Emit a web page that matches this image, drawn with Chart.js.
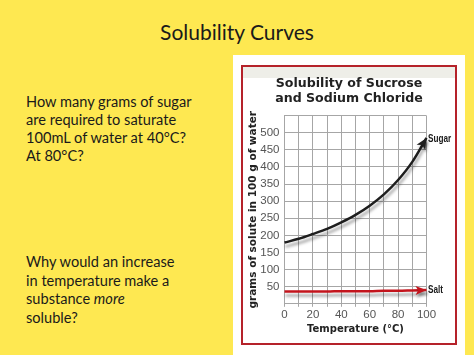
<!DOCTYPE html>
<html><head><meta charset="utf-8">
<script src="https://cdn.jsdelivr.net/npm/chart.js@4/dist/chart.umd.min.js"></script>
<style>
html,body{margin:0;padding:0;}
body{width:474px;height:355px;background:#FEE851;position:relative;overflow:hidden;font-family:Lato,"Open Sans",sans-serif;color:#1a1a1a;}
#title{position:absolute;left:0;width:474px;top:18px;text-align:center;font-size:21px;line-height:28px;}
.p{position:absolute;left:26px;font-size:14.6px;line-height:17.9px;}
#panel{position:absolute;left:233px;top:55px;width:232px;height:310px;background:#fff;}
#frame{position:absolute;left:241px;top:65px;width:212px;height:276px;border:2px solid #B5222A;background:#fff;}
#strip{position:absolute;left:0;top:0;width:212px;height:11px;background:#EEEEE8;}
#c{position:absolute;left:0;top:0;}
</style></head>
<body>
<div id="title">Solubility Curves</div>
<div class="p" style="top:93px">How many grams of sugar<br>are required to saturate<br>100mL of water at 40°C?<br>At 80°C?</div>
<div class="p" style="top:253px;line-height:18.5px">Why would an increase<br>in temperature make a<br>substance <i>more</i><br>soluble?</div>
<div id="panel"></div>
<div id="frame"><div id="strip"></div><canvas id="c" width="212" height="276"></canvas></div>
<script>
const temps = [0, 10, 20, 30, 40, 50, 60, 70, 80, 90, 100];
const sugar = [179, 190, 204, 219, 238, 260, 287, 320, 362, 415, 485];
const salt = [36, 36, 36, 36, 37, 37, 37, 38, 38, 39, 40];
const seriesNames = ['Sugar', 'Salt'];
const chartTitle = ['Solubility of Sucrose', 'and Sodium Chloride'];
const xTitle = 'Temperature (°C)';
const yTitle = 'grams of solute in 100 g of water';

const shadowPlugin = {
  id: 'shadow',
  beforeDatasetDraw(chart) {
    const ctx = chart.ctx;
    ctx.save();
    ctx.shadowColor = 'rgba(0,0,0,0.35)';
    ctx.shadowBlur = 3;
    ctx.shadowOffsetX = 1;
    ctx.shadowOffsetY = 4;
  },
  afterDatasetDraw(chart) { chart.ctx.restore(); }
};

const arrowPlugin = {
  id: 'arrows',
  afterDatasetsDraw(chart) {
    const ctx = chart.ctx;
    chart.data.datasets.forEach((ds, i) => {
      const meta = chart.getDatasetMeta(i);
      const pts = meta.data;
      const p = pts[pts.length - 1];
      const q = pts[pts.length - 2];
      let fx = (p.cp1x !== undefined) ? p.cp1x : q.x;
      let fy = (p.cp1y !== undefined) ? p.cp1y : q.y;
      if (Math.abs(fx - p.x) < 0.5 && Math.abs(fy - p.y) < 0.5) { fx = q.x; fy = q.y; }
      const ang = Math.atan2(p.y - fy, p.x - fx);
      const L = ds.arrowLen, W = ds.arrowHalf;
      ctx.save();
      ctx.shadowColor = 'rgba(0,0,0,0.35)';
      ctx.shadowBlur = 3;
      ctx.shadowOffsetX = 1;
      ctx.shadowOffsetY = 3;
      ctx.translate(p.x, p.y);
      ctx.rotate(ang);
      ctx.beginPath();
      ctx.moveTo(0, 0);
      ctx.lineTo(-L, -W);
      ctx.lineTo(-L * 0.75, 0);
      ctx.lineTo(-L, W);
      ctx.closePath();
      ctx.fillStyle = ds.borderColor;
      ctx.fill();
      ctx.restore();
      ctx.save();
      ctx.font = 'bold 10.5px "Liberation Sans", Arial, sans-serif';
      ctx.fillStyle = '#1a1a1a';
      ctx.textBaseline = 'middle';
      ctx.textAlign = 'left';
      ctx.translate(p.x + 1.5, p.y + ds.labelDy);
      ctx.scale(0.78, 1);
      ctx.fillText(ds.label, 0, 0);
      ctx.restore();
    });
  }
};

new Chart(document.getElementById('c'), {
  type: 'line',
  data: {
    labels: temps,
    datasets: [
      { label: seriesNames[0], data: temps.map((t, i) => ({x: t, y: sugar[i]})), borderColor: '#1e1e1e', borderWidth: 2.5, pointRadius: 0, cubicInterpolationMode: 'monotone', clip: 10, arrowLen: 11, arrowHalf: 5, labelDy: 1 },
      { label: seriesNames[1], data: temps.map((t, i) => ({x: t, y: salt[i]})), borderColor: '#C3141C', borderWidth: 2.5, pointRadius: 0, cubicInterpolationMode: 'monotone', clip: 10, arrowLen: 11, arrowHalf: 4.5, labelDy: 0 }
    ]
  },
  options: {
    responsive: false,
    animation: false,
    devicePixelRatio: 1,
    layout: { padding: 0 },
    plugins: {
      legend: { display: false },
      tooltip: { enabled: false },
      title: {
        display: true, text: chartTitle, color: '#222',
        font: { family: '"DejaVu Sans", Verdana, sans-serif', weight: 'bold', size: 12.6, lineHeight: 1.222 },
        padding: { top: 8.6, bottom: 9.3 }
      }
    },
    scales: {
      x: {
        type: 'linear', min: 0, max: 100,
        afterFit(s) { s.height = 39.2; },
        ticks: { stepSize: 10, autoSkip: false, maxRotation: 0, color: '#555', padding: 1,
          font: { family: '"Liberation Sans", Arial, sans-serif', size: 11.5 },
          callback: v => (v % 20 === 0 ? v : '') },
        grid: { color: '#a6a6a6', lineWidth: 1, tickLength: 3, tickColor: '#a6a6a6' },
        border: { color: '#a6a6a6' },
        title: { display: true, text: xTitle, color: '#222',
          font: { family: '"DejaVu Sans", Verdana, sans-serif', weight: 'bold', size: 10, lineHeight: 1.2 },
          padding: { top: 0, bottom: 7.7 } }
      },
      y: {
        min: 0, max: 550,
        afterFit(s) { s.width = 41.5; },
        ticks: { stepSize: 50, color: '#555', padding: 5,
          font: { family: '"Liberation Sans", Arial, sans-serif', size: 11.5 },
          callback: v => (v === 0 || v === 550 ? '' : v) },
        grid: { color: '#a6a6a6', lineWidth: 1, drawTicks: false },
        border: { color: '#a6a6a6' },
        title: { display: true, text: yTitle, color: '#222',
          font: { family: '"DejaVu Sans", Verdana, sans-serif', weight: 'bold', size: 10.5, lineHeight: 1.2 },
          padding: { top: 3.7, bottom: 0 } }
      },
      yRight: {
        position: 'right', min: 0, max: 550,
        afterFit(s) { s.width = 28.5; },
        ticks: { display: false },
        grid: { drawOnChartArea: false, drawTicks: false },
        border: { display: false }
      }
    }
  },
  plugins: [shadowPlugin, arrowPlugin]
});
</script>
</body></html>
